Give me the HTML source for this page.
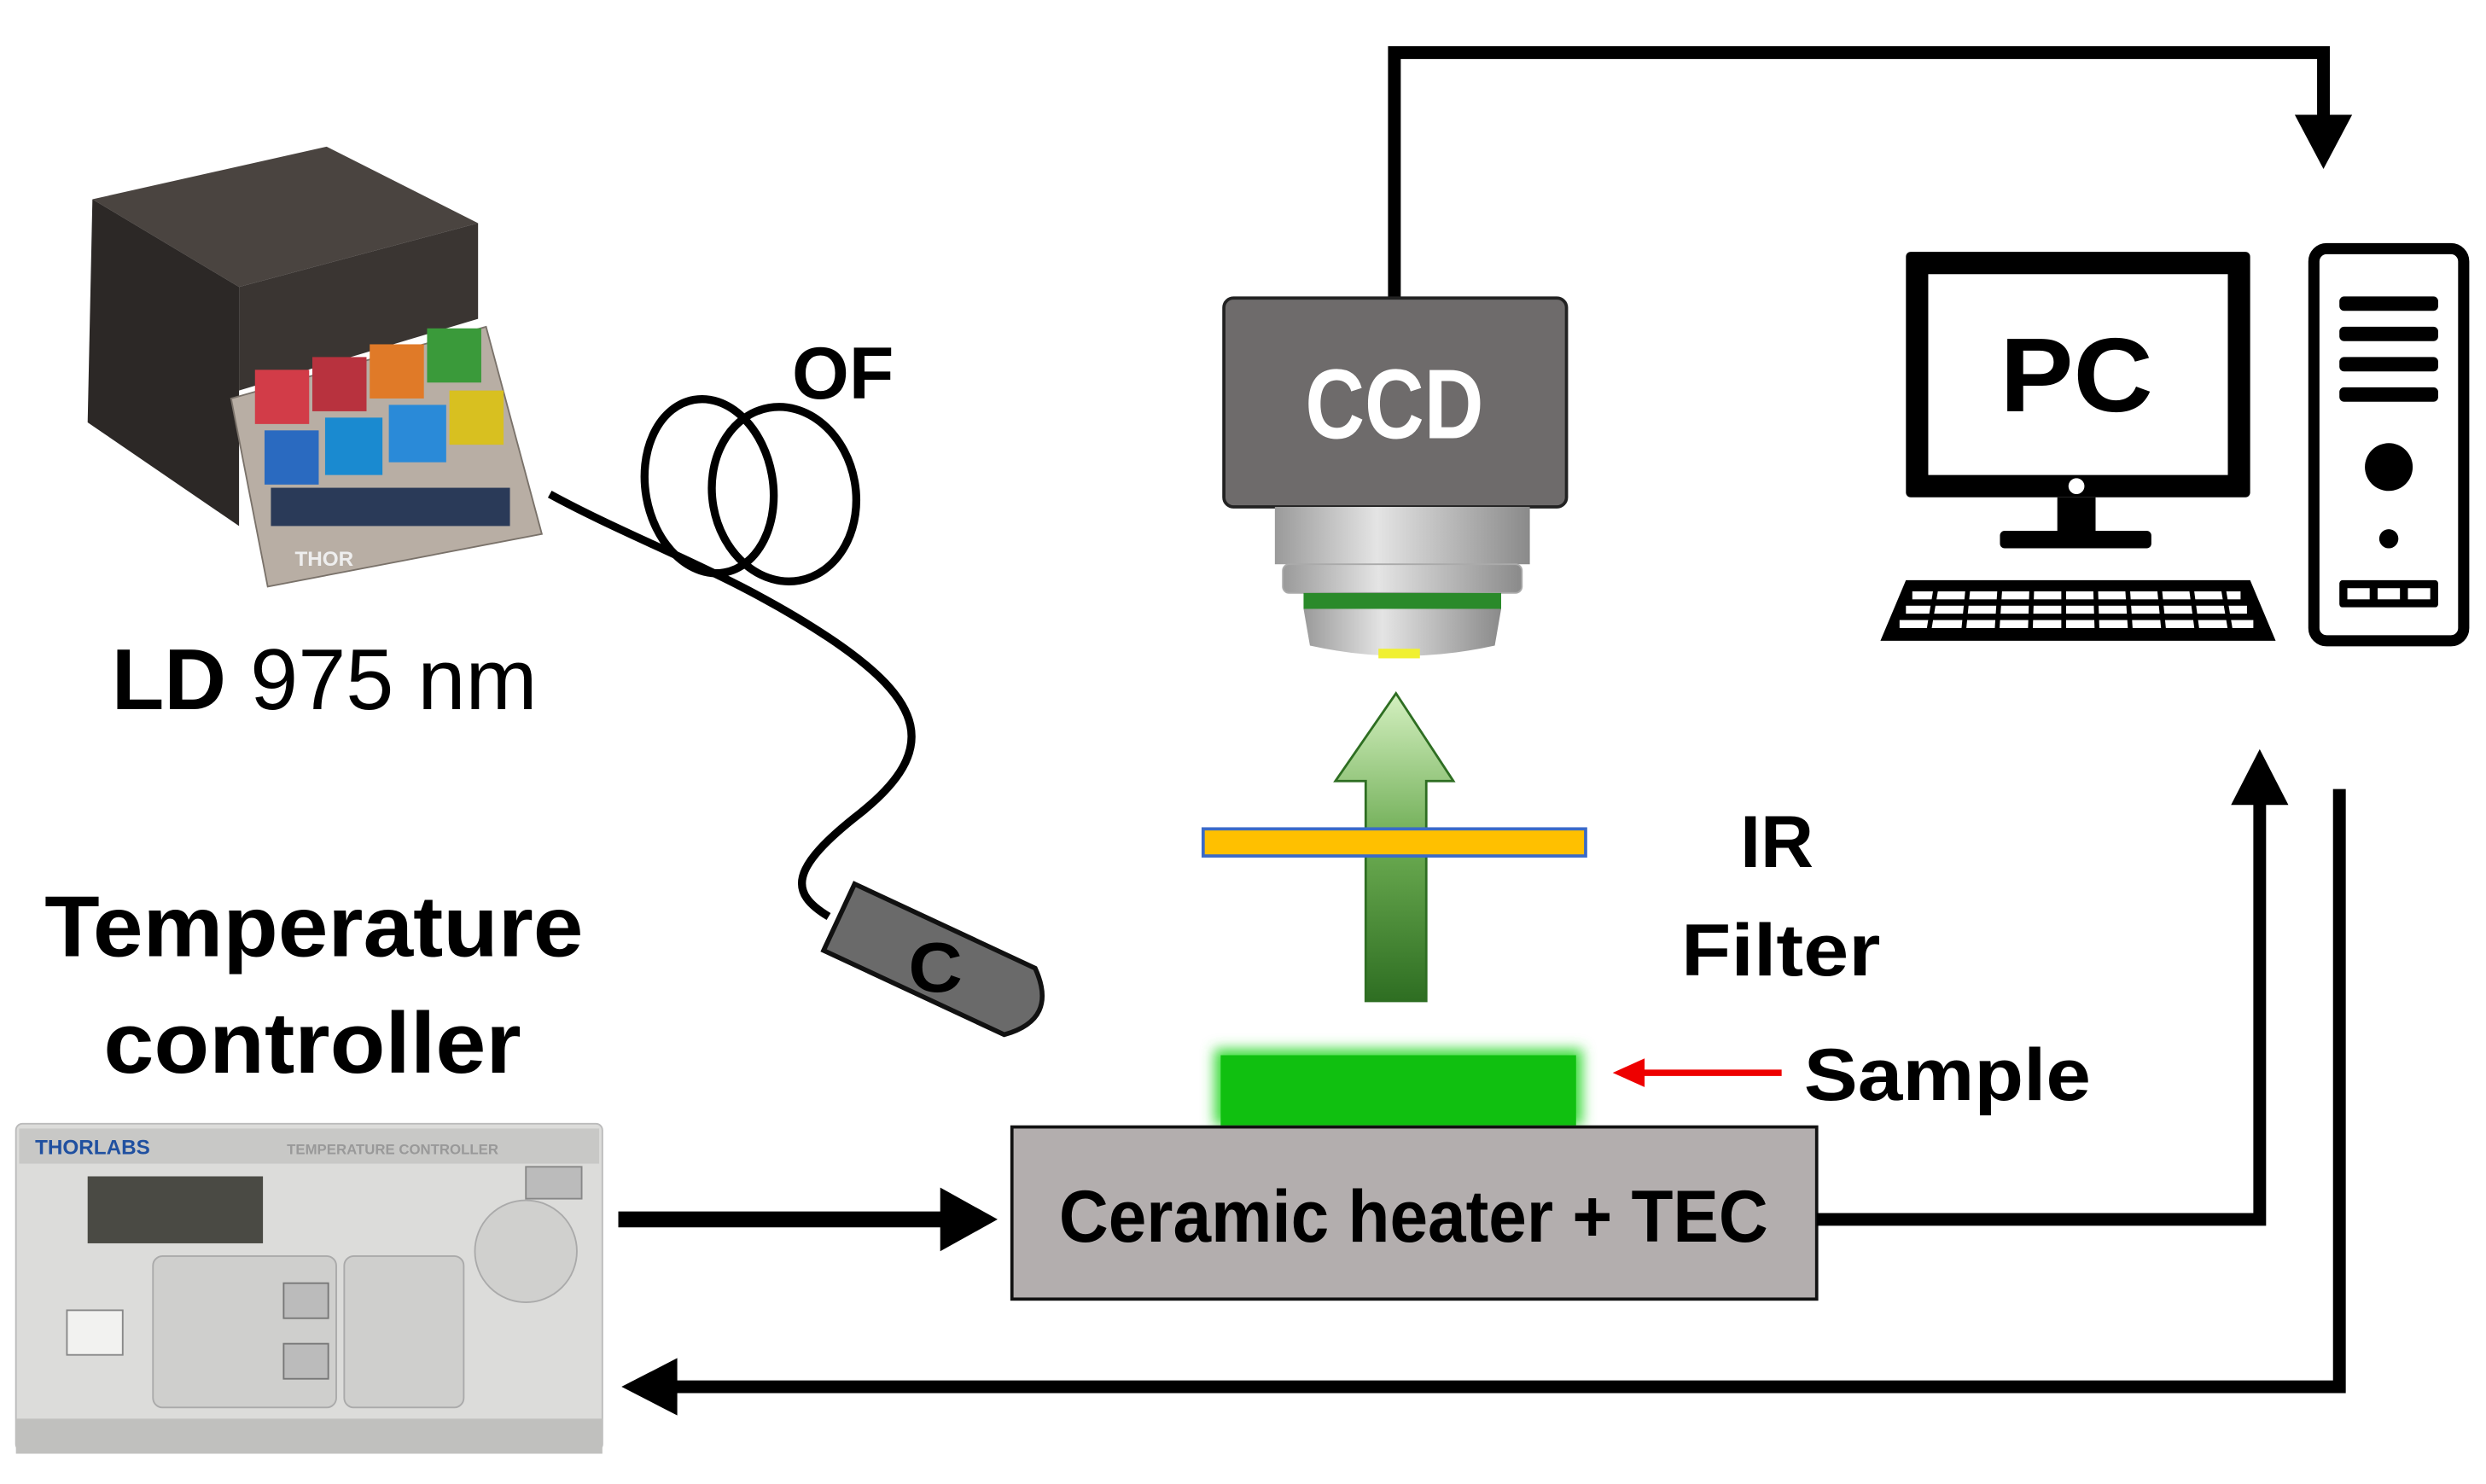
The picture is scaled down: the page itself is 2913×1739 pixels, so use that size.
<!DOCTYPE html>
<html><head><meta charset="utf-8"><style>
html,body{margin:0;padding:0;background:#fff;}
svg{display:block;}
text{font-family:"Liberation Sans Narrow","Liberation Sans",sans-serif;font-weight:bold;}
</style></head><body>
<svg width="2913" height="1739" viewBox="0 0 1560 931" preserveAspectRatio="none" xmlns="http://www.w3.org/2000/svg">
<defs>
<linearGradient id="ga" x1="0" y1="0" x2="0" y2="1"><stop offset="0" stop-color="#d4f0c0"/><stop offset="0.5" stop-color="#6aaa50"/><stop offset="1" stop-color="#2e6e22"/></linearGradient>
<linearGradient id="lens" x1="0" y1="0" x2="1" y2="0"><stop offset="0" stop-color="#9a9a9a"/><stop offset="0.4" stop-color="#e4e4e4"/><stop offset="1" stop-color="#8a8a8a"/></linearGradient>
<filter id="glow" x="-20%" y="-50%" width="140%" height="200%"><feGaussianBlur stdDeviation="4"/></filter>
</defs>
<rect width="1560" height="931" fill="#fff"/>

<polyline points="875,187 875,33 1458,33 1458,80" fill="none" stroke="#000" stroke-width="8"/>
<polygon points="1440,72 1476,72 1458,106" fill="#000"/>

<rect x="768" y="187" width="215" height="131" rx="6" fill="#6e6b6b" stroke="#222" stroke-width="2"/>
<text x="875" y="275" font-size="62" fill="#fff" text-anchor="middle" textLength="112" lengthAdjust="spacingAndGlyphs">CCD</text>
<rect x="800" y="318" width="160" height="36" fill="url(#lens)"/>
<rect x="805" y="354" width="150" height="18" rx="4" fill="url(#lens)" stroke="#aaa"/>
<rect x="818" y="372" width="124" height="10" fill="#2a8a2a"/>
<path d="M818,382 L942,382 L938,405 Q880,418 822,405 Z" fill="url(#lens)"/>
<rect x="865" y="407" width="26" height="6" fill="#f0f030"/>

<polygon points="876,435 912,490 895,490 895,628 857,628 857,490 838,490" fill="url(#ga)" stroke="#2e6e22" stroke-width="1.5"/>
<rect x="755" y="520" width="240" height="17" fill="#ffc000" stroke="#3a6ac8" stroke-width="2"/>
<text x="1092" y="544" font-size="46">IR</text>
<text x="1055" y="612" font-size="46" textLength="125" lengthAdjust="spacingAndGlyphs">Filter</text>

<rect x="762" y="658" width="231" height="48" fill="#3ddc3d" filter="url(#glow)"/>
<rect x="766" y="662" width="223" height="44" fill="#10c010"/>
<line x1="1118" y1="673" x2="1030" y2="673" stroke="#e00" stroke-width="4"/>
<polygon points="1012,673 1032,664 1032,682" fill="#e00"/>
<text x="1132" y="690" font-size="46" textLength="180" lengthAdjust="spacingAndGlyphs">Sample</text>

<rect x="635" y="707" width="505" height="108" fill="#b3aeae" stroke="#111" stroke-width="2"/>
<text x="887" y="779" font-size="46" text-anchor="middle" textLength="445" lengthAdjust="spacingAndGlyphs">Ceramic heater + TEC</text>

<line x1="388" y1="765" x2="595" y2="765" stroke="#000" stroke-width="10"/>
<polygon points="590,745 626,765 590,785" fill="#000"/>
<polyline points="1140,765 1418,765 1418,500" fill="none" stroke="#000" stroke-width="8"/>
<polygon points="1400,505 1436,505 1418,470" fill="#000"/>
<polyline points="1468,495 1468,870 420,870" fill="none" stroke="#000" stroke-width="8"/>
<polygon points="425,852 425,888 390,870" fill="#000"/>

<rect x="1196" y="158" width="216" height="154" rx="3" fill="#000"/>
<rect x="1210" y="172" width="188" height="126" fill="#fff"/>
<text x="1303" y="258" font-size="66" text-anchor="middle" textLength="96" lengthAdjust="spacingAndGlyphs">PC</text>
<circle cx="1303" cy="305" r="5" fill="#fff"/>
<rect x="1291" y="312" width="24" height="22" fill="#000"/>
<rect x="1255" y="333" width="95" height="11" rx="3" fill="#000"/>
<polygon points="1196,364 1412,364 1428,402 1180,402" fill="#000"/>
<g fill="#fff">
<rect x="1200" y="371" width="206" height="5"/><rect x="1196" y="380" width="214" height="5"/><rect x="1192" y="389" width="222" height="5"/>
</g>
<g stroke="#000" stroke-width="3">
<line x1="1215" y1="368" x2="1210" y2="398"/><line x1="1235" y1="368" x2="1232" y2="398"/><line x1="1255" y1="368" x2="1253" y2="398"/><line x1="1275" y1="368" x2="1274" y2="398"/><line x1="1295" y1="368" x2="1295" y2="398"/><line x1="1315" y1="368" x2="1316" y2="398"/><line x1="1335" y1="368" x2="1337" y2="398"/><line x1="1355" y1="368" x2="1358" y2="398"/><line x1="1375" y1="368" x2="1379" y2="398"/><line x1="1395" y1="368" x2="1400" y2="398"/>
</g>
<rect x="1452" y="156" width="94" height="246" rx="8" fill="#fff" stroke="#000" stroke-width="7"/>
<g fill="#000"><rect x="1468" y="186" width="62" height="9" rx="3"/><rect x="1468" y="205" width="62" height="9" rx="3"/><rect x="1468" y="224" width="62" height="9" rx="3"/><rect x="1468" y="243" width="62" height="9" rx="3"/>
<circle cx="1499" cy="293" r="15"/><circle cx="1499" cy="338" r="6"/>
<rect x="1468" y="364" width="62" height="17" rx="2"/></g>
<g fill="#fff"><rect x="1473" y="369" width="14" height="7"/><rect x="1492" y="369" width="14" height="7"/><rect x="1511" y="369" width="14" height="7"/></g>

<!-- LD device -->
<polygon points="58,125 205,92 300,140 150,180" fill="#4a4440"/>
<polygon points="58,125 150,180 150,330 55,265" fill="#2c2826"/>
<polygon points="150,180 300,140 300,200 150,245" fill="#3a3532"/>
<polygon points="145,250 305,205 340,335 168,368" fill="#b8aea4" stroke="#7a726a"/>
<g>
<rect x="160" y="232" width="34" height="34" fill="#d23c48"/><rect x="196" y="224" width="34" height="34" fill="#b8323e"/><rect x="232" y="216" width="34" height="34" fill="#e07a28"/><rect x="268" y="206" width="34" height="34" fill="#3a9a3a"/>
<rect x="166" y="270" width="34" height="34" fill="#2a6ac0"/><rect x="204" y="262" width="36" height="36" fill="#1a8ad0"/><rect x="244" y="254" width="36" height="36" fill="#2a8ad8"/><rect x="282" y="245" width="34" height="34" fill="#d8c020"/>
<rect x="170" y="306" width="150" height="24" fill="#2a3a58"/>
</g>
<text x="185" y="355" font-size="13" fill="#eee">THOR</text>

<path d="M345,310 C400,340 460,360 520,400 C580,440 590,470 540,510 C495,545 495,560 520,575" fill="none" stroke="#000" stroke-width="5"/>
<ellipse cx="445" cy="305" rx="40" ry="55" fill="none" stroke="#000" stroke-width="5" transform="rotate(-10 445 305)"/>
<ellipse cx="492" cy="310" rx="45" ry="55" fill="none" stroke="#000" stroke-width="5" transform="rotate(-10 492 310)"/>
<text x="497" y="250" font-size="46">OF</text>

<g transform="rotate(25 590 605)">
<path d="M520,582 L645,582 Q672,605 645,628 L520,628 Z" fill="#6a6a6a" stroke="#111" stroke-width="3"/>
</g>
<text x="570" y="622" font-size="44" textLength="34" lengthAdjust="spacingAndGlyphs">C</text>

<text x="70" y="445" font-size="54" style="font-family:'Liberation Sans',sans-serif">LD <tspan font-weight="normal">975 nm</tspan></text>
<text x="28" y="600" font-size="54" textLength="338" lengthAdjust="spacingAndGlyphs">Temperature</text>
<text x="65" y="673" font-size="54" textLength="262" lengthAdjust="spacingAndGlyphs">controller</text>

<rect x="10" y="705" width="368" height="205" rx="4" fill="#dcdcda" stroke="#bbb"/>
<rect x="12" y="708" width="364" height="22" fill="#c8c8c6"/>
<text x="22" y="724" font-size="13" fill="#2050a0">THORLABS</text>
<text x="180" y="724" font-size="9" fill="#999" font-weight="normal">TEMPERATURE CONTROLLER</text>
<rect x="55" y="738" width="110" height="42" fill="#4a4a44"/>
<rect x="330" y="732" width="35" height="20" fill="#bbb" stroke="#888"/>
<circle cx="330" cy="785" r="32" fill="#d0d0ce" stroke="#aaa"/>
<rect x="96" y="788" width="115" height="95" rx="6" fill="#cfcfcd" stroke="#aaa"/>
<rect x="216" y="788" width="75" height="95" rx="6" fill="#cfcfcd" stroke="#aaa"/>
<rect x="178" y="805" width="28" height="22" fill="#bbb" stroke="#777"/>
<rect x="178" y="843" width="28" height="22" fill="#bbb" stroke="#777"/>
<rect x="42" y="822" width="35" height="28" fill="#f2f2f0" stroke="#888"/>
<rect x="10" y="890" width="368" height="22" fill="#c0c0be"/>
</svg>
</body></html>
